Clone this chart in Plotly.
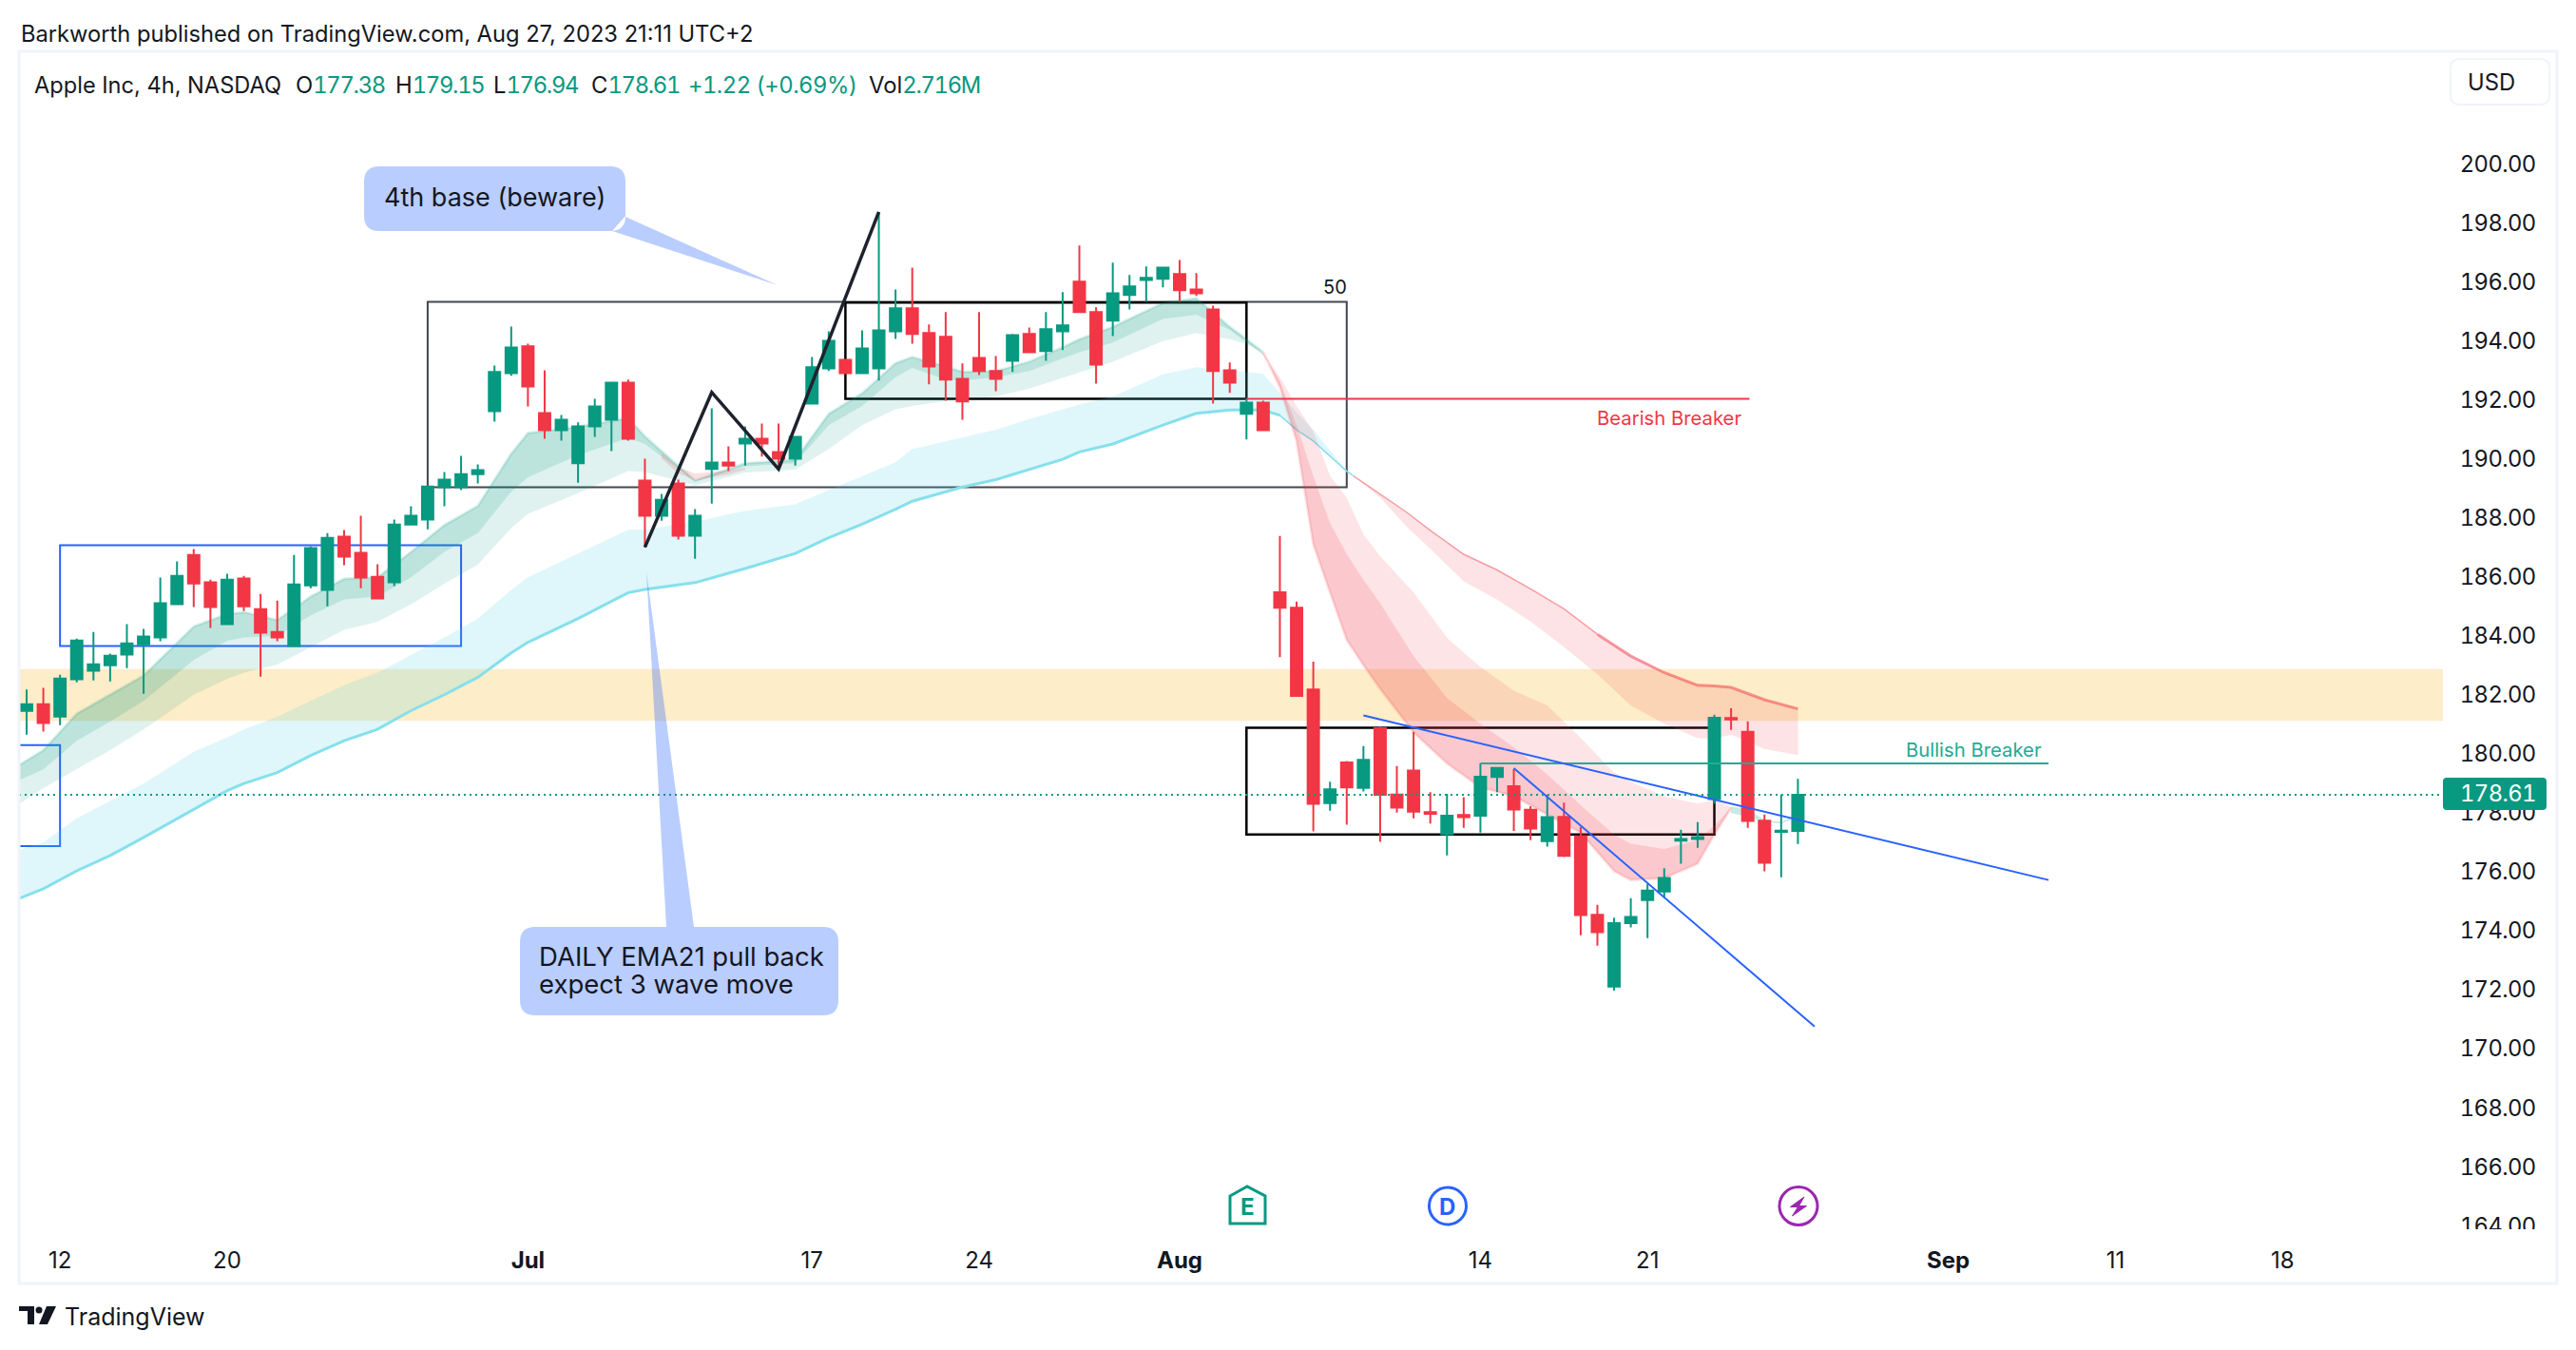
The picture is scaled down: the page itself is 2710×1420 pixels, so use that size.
import plotly.graph_objects as go

# 4h candles, bar index = position on the time axis
opens = [181.45, 181.68, 181.26, 182.52, 182.81, 183.00, 183.36, 183.71, 183.94, 185.07,
         186.74, 185.81, 184.39, 185.94, 184.90, 184.13, 183.65, 185.71, 185.55, 187.36,
         186.81, 186.00, 185.81, 187.77, 187.94, 189.03, 189.03, 189.48, 191.61, 192.90,
         193.81, 191.55, 190.97, 189.85, 191.10, 191.32, 192.58, 189.26, 188.07, 189.16,
         187.39, 189.65, 189.87, 190.52, 190.68, 190.23, 190.00, 191.87, 193.06, 193.35,
         192.90, 193.06, 194.32, 195.10, 194.26, 194.13, 192.71, 193.42, 192.97, 193.32,
         194.23, 193.65, 194.32, 196.00, 194.97, 194.68, 195.55, 196.06, 196.10, 196.26,
         195.74, 195.06, 193.00, 191.52, 191.90, 185.47, 184.95, 182.18, 178.33, 179.70,
         178.84, 180.86, 178.62, 179.43, 178.02, 177.27, 177.92, 177.90, 179.21, 178.90,
         178.10, 177.04, 177.86, 177.20, 174.54, 172.11, 174.26, 175.04, 175.33, 177.05,
         177.11, 178.46, 181.21, 180.74, 177.73, 177.35, 177.38]
highs = [182.18, 182.23, 182.68, 183.90, 184.13, 183.39, 184.39, 184.23, 185.97, 186.52,
         186.94, 185.90, 186.10, 186.03, 185.42, 185.19, 186.74, 187.03, 187.48, 187.58,
         188.07, 186.42, 187.94, 188.39, 189.10, 189.55, 190.10, 189.81, 193.16, 194.48,
         193.90, 193.00, 191.48, 191.23, 192.03, 192.61, 192.68, 190.00, 188.81, 189.29,
         188.29, 191.71, 190.42, 191.10, 191.19, 191.19, 190.74, 193.45, 194.32, 193.35,
         194.35, 198.34, 195.74, 196.48, 194.55, 194.97, 193.23, 194.97, 193.48, 194.23,
         194.45, 194.97, 195.65, 197.23, 195.13, 196.65, 196.23, 196.52, 196.48, 196.74,
         196.29, 195.19, 193.26, 192.03, 191.97, 187.38, 185.16, 183.12, 179.05, 179.75,
         180.26, 180.92, 179.58, 180.74, 178.70, 178.64, 178.53, 179.67, 179.52, 179.48,
         178.22, 178.61, 178.34, 177.51, 174.88, 174.44, 175.10, 175.59, 176.12, 177.42,
         177.68, 181.32, 181.54, 181.10, 177.94, 178.62, 179.15]
lows = [180.65, 180.75, 180.97, 182.42, 182.48, 182.45, 182.90, 182.03, 183.81, 185.07,
        184.97, 184.26, 184.39, 184.84, 182.61, 183.81, 183.65, 185.61, 185.00, 186.39,
        185.61, 185.23, 185.68, 187.77, 187.61, 188.39, 188.94, 189.16, 191.26, 192.81,
        191.77, 190.68, 190.61, 189.19, 190.74, 190.26, 190.61, 187.00, 187.90, 187.26,
        186.61, 188.48, 189.58, 189.77, 190.07, 189.65, 189.77, 191.84, 192.97, 192.90,
        192.90, 192.65, 194.06, 193.90, 192.52, 191.97, 191.32, 192.84, 192.29, 192.94,
        193.61, 193.32, 193.68, 194.97, 192.55, 194.16, 195.06, 195.32, 195.81, 195.32,
        195.52, 191.87, 192.23, 190.65, 190.97, 183.27, 181.94, 177.37, 178.07, 177.59,
        178.72, 177.01, 178.00, 177.81, 177.63, 176.55, 177.49, 177.33, 178.70, 177.38,
        177.07, 176.85, 176.50, 173.85, 173.49, 171.97, 174.11, 173.75, 175.13, 176.27,
        176.81, 178.30, 180.81, 177.49, 176.01, 175.81, 176.94]
closes = [181.68, 181.04, 182.55, 183.84, 183.03, 183.32, 183.74, 183.97, 185.10, 186.03,
          185.77, 184.97, 185.90, 185.00, 184.10, 183.94, 185.74, 186.97, 187.32, 186.68,
          185.97, 185.26, 187.77, 188.07, 189.06, 189.29, 189.48, 189.61, 192.94, 193.77,
          192.45, 190.97, 191.32, 191.10, 191.77, 192.58, 190.68, 188.07, 188.61, 187.39,
          188.07, 189.87, 189.77, 190.68, 190.52, 190.00, 190.74, 193.10, 194.00, 192.90,
          193.74, 194.35, 195.10, 194.23, 193.13, 192.68, 191.94, 192.97, 192.71, 194.19,
          193.61, 194.39, 194.52, 194.97, 193.19, 195.61, 195.84, 196.13, 196.48, 195.71,
          195.61, 192.97, 192.58, 191.90, 190.97, 184.95, 181.96, 178.30, 178.79, 178.86,
          179.79, 178.61, 178.17, 178.04, 177.96, 177.90, 177.85, 179.22, 179.52, 178.11,
          177.46, 177.85, 176.54, 174.53, 173.95, 174.26, 174.47, 175.36, 175.79, 177.11,
          177.17, 181.22, 181.16, 177.72, 176.30, 177.39, 178.61]

# EMA ribbon while rising (bars shared by all five curves up to the crossover)
up_bars = [-0.46, 1, 3, 5, 7, 10, 12, 13, 15, 17, 19, 21, 23, 25, 27, 29, 30, 33, 36, 37, 40, 43,
           46, 48, 50, 52, 53, 55, 56, 58, 60, 62, 63, 65, 68, 70, 72, 73, 74]
fast_top = [179.61, 180.12, 181.36, 182.00, 182.65, 184.31, 184.74, 184.80, 184.53, 185.33, 185.93,
            185.98, 186.84, 187.75, 188.40, 190.17, 190.87, 191.09, 191.38, 190.76, 189.26, 189.85,
            189.96, 191.52, 192.22, 193.24, 193.45, 193.13, 192.95, 192.97, 193.29, 193.78, 194.05,
            194.47, 195.28, 195.44, 194.47, 194.05, 193.61]
fast_mid = [179.10, 179.47, 180.44, 181.09, 181.79, 183.18, 183.83, 183.94, 183.99, 184.69, 185.23,
            185.33, 185.98, 186.84, 187.48, 188.88, 189.37, 190.12, 190.71, 190.50, 189.23, 189.74,
            189.85, 191.14, 191.79, 192.76, 193.08, 192.68, 192.65, 192.76, 192.97, 193.40, 193.61,
            193.94, 194.74, 194.88, 194.37, 193.94, 193.51]
fast_low = [178.29, 178.83, 179.47, 180.12, 180.82, 182.00, 182.54, 182.75, 183.02, 183.61, 184.20,
            184.47, 185.06, 185.76, 186.41, 187.65, 188.13, 188.83, 189.58, 189.55, 189.10, 189.53,
            189.63, 190.33, 191.14, 191.68, 191.79, 191.95, 192.00, 192.11, 192.38, 192.76, 192.92,
            193.29, 193.99, 194.26, 194.05, 193.88, 193.61]
slow_top = [176.73, 177.00, 177.81, 178.40, 178.99, 180.07, 180.55, 180.82, 181.25, 181.79, 182.32,
            182.75, 183.35, 183.94, 184.58, 185.55, 185.98, 186.79, 187.59, 187.60, 187.86, 188.24,
            188.45, 188.94, 189.42, 189.88, 190.33, 190.60, 190.71, 190.98, 191.35, 191.68, 191.84,
            192.11, 192.86, 193.10, 192.99, 192.95, 192.88]
slow_low = [175.09, 175.42, 176.03, 176.55, 177.16, 178.13, 178.75, 178.99, 179.36, 179.94, 180.44,
            180.83, 181.46, 182.00, 182.59, 183.42, 183.78, 184.58, 185.46, 185.57, 185.80, 186.28,
            186.79, 187.32, 187.78, 188.29, 188.56, 188.88, 189.04, 189.29, 189.63, 189.98, 190.23,
            190.50, 191.14, 191.54, 191.65, 191.65, 191.65]
# slow cloud carries on past the fast crossover until it flips
slow_tail_bars = [74, 75, 76, 77, 79, 79.4]
slow_tail_top = [192.88, 192.22, 191.57, 190.98, 189.58, 189.42]
slow_tail_low = [191.65, 191.47, 190.98, 190.60, 189.58, 189.42]

# short red flip of the fast ribbon in early July
dip_bars = [38, 39, 40, 42, 43]
dip_top = [190.20, 189.70, 189.50, 189.60, 189.70]
dip_low = [190.00, 189.50, 189.26, 189.47, 189.63]

# EMA ribbon while falling
down_bars = [74, 75, 76, 77, 78, 79, 80, 81, 83, 85, 87, 89, 91, 93, 95, 96, 98, 100, 101, 102]
down_fast_low = [193.61, 192.43, 190.60, 187.10, 185.47, 183.86, 183.00, 182.20, 180.72, 179.67, 178.86,
                 178.56, 177.94, 177.32, 176.02, 175.72, 175.78, 176.27, 177.26, 178.16]
down_fast_mid = [193.51, 192.65, 191.14, 189.42, 187.82, 186.77, 185.90, 185.10, 183.31, 181.89, 181.02,
                 180.22, 179.30, 178.25, 177.26, 176.95, 176.77, 177.07, 177.57, 178.16]
down_fast_top = [193.61, 192.76, 191.79, 190.93, 189.42, 188.68, 187.44, 186.70, 185.47, 183.93, 182.94,
                 182.14, 181.64, 180.53, 179.36, 179.05, 178.56, 178.31, 178.43, 178.20]
down_slow_bars = [79.4, 81, 82.6, 84, 86, 88, 90, 92, 94, 96, 98, 100, 101, 102, 104, 106]
down_slow_top = [189.42, 188.80, 188.18, 187.57, 186.76, 186.23, 185.59, 184.91, 184.05, 183.31, 182.75,
                 182.32, 182.30, 182.25, 181.83, 181.52]
down_slow_low = [189.42, 188.68, 187.69, 186.95, 185.84, 185.22, 184.48, 183.62, 182.69, 181.64, 181.02,
                 180.53, 180.51, 180.65, 180.16, 179.95]
# little green sliver after the last flip
last_bars = [102, 103, 104, 105, 106]
last_top = [178.21, 178.12, 177.75, 177.69, 177.94]
last_low = [177.99, 177.87, 177.69, 177.63, 177.87]

# drawings on the chart: (bar, price)
zigzag_bars = [37, 41, 45, 51]
zigzag_prices = [187.00, 192.25, 189.65, 198.37]
trend_a_bars = [80, 121]
trend_a_prices = [181.30, 175.72]
trend_b_bars = [89, 107]
trend_b_prices = [179.51, 170.75]
bearish_bars = [73, 103.1]
bearish_price = 192.03
bullish_bars = [87, 121]
bullish_price = 179.67
last_price = 178.61

# time axis
tick_bars = [2, 12, 30, 47, 57, 69, 87, 97, 115, 125, 135]
tick_labels = ["12", "20", "<b>Jul</b>", "17", "24", "<b>Aug</b>", "14", "21", "<b>Sep</b>", "11", "18"]
price_ticks = list(range(164, 204, 2))

GREEN = "#089981"
RED = "#f23645"
BLUE = "#2962ff"
DARK = "#131722"
FONT = "Inter"
CALLOUT = "rgba(41,98,255,0.32)"


# the pane runs 20..2570 px across and 54..1293 px down the 2710x1420 page
def fx(px):
    return (px - 20) / 2550


def fy(py):
    return (1293 - py) / 1239


def band(fig, xs, top, low, color):
    fig.add_trace(go.Scatter(x=list(xs) + list(xs)[::-1], y=list(top) + list(low)[::-1], mode="lines",
                             fill="toself", fillcolor=color, line=dict(width=0), hoverinfo="skip", zorder=0))


def line(fig, xs, ys, color, width, zorder=0):
    fig.add_trace(go.Scatter(x=xs, y=ys, mode="lines", line=dict(color=color, width=width), hoverinfo="skip",
                             zorder=zorder))


def px_path(points):
    return "M " + " L ".join(f"{fx(a):.5f},{fy(b):.5f}" for a, b in points) + " Z"


def pt(a, b):
    return f"{fx(a):.5f},{fy(b):.5f}"


def bubble_path(x0, y0, x1, y1, r, top_tail=None, right_tail=None):
    # rounded box, clockwise from top left, with an optional tail on the top or right side
    d = f"M {pt(x0 + r, y0)}"
    if top_tail:
        d += "".join(f" L {pt(a, b)}" for a, b in top_tail)
    d += f" L {pt(x1 - r, y0)} Q {pt(x1, y0)} {pt(x1, y0 + r)}"
    if right_tail:
        d += "".join(f" L {pt(a, b)}" for a, b in right_tail)
    d += f" L {pt(x1, y1 - r)} Q {pt(x1, y1)} {pt(x1 - r, y1)}"
    d += f" L {pt(x0 + r, y1)} Q {pt(x0, y1)} {pt(x0, y1 - r)}"
    d += f" L {pt(x0, y0 + r)} Q {pt(x0, y0)} {pt(x0 + r, y0)} Z"
    return d


def rect_shape(x0, x1, y0, y1, color, width):
    # TradingView keeps these boxes behind the candles
    return dict(type="rect", x0=x0, x1=x1, y0=y0, y1=y1, line=dict(color=color, width=width), layer="below")


def page_shape(**kw):
    kw.update(xref="paper", yref="paper", layer="above")
    return kw


def num(text, color=DARK, squeeze=0.6):
    # Inter's default "1" is narrow, the chart uses even digit widths
    return (f"<span style=\"color:{color};font-feature-settings:'tnum';"
            f"letter-spacing:-{squeeze}px\">{text}</span>")


def label(px, py, text, color=DARK, size=23.8, anchor="left"):
    return dict(xref="paper", yref="paper", x=fx(px), y=fy(py), text=text, showarrow=False,
                xanchor=anchor, yanchor="middle", align="left", font=dict(family=FONT, size=size, color=color))


fig = go.Figure()

# ribbons
band(fig, up_bars, slow_top, slow_low, "rgba(77,208,225,0.18)")
band(fig, slow_tail_bars, slow_tail_top, slow_tail_low, "rgba(77,208,225,0.18)")
line(fig, up_bars + slow_tail_bars[:2], slow_low + slow_tail_low[:2], "#86e0ec", 3)
line(fig, slow_tail_bars[1:], slow_tail_low[1:], "#86e0ec", 1.5)
band(fig, up_bars, fast_top, fast_low, "rgba(8,153,129,0.13)")
band(fig, up_bars, fast_top, fast_mid, "rgba(8,153,129,0.16)")
line(fig, up_bars, fast_top, "rgba(8,153,129,0.14)", 3)
band(fig, dip_bars, dip_top, dip_low, "rgba(242,54,69,0.16)")
band(fig, down_slow_bars, down_slow_top, down_slow_low, "rgba(242,54,69,0.14)")
line(fig, down_slow_bars[:9], down_slow_top[:9], "rgba(242,54,69,0.45)", 1.5)
line(fig, down_slow_bars[8:], down_slow_top[8:], "rgba(242,54,69,0.5)", 3)
band(fig, down_bars, down_fast_top, down_fast_low, "rgba(242,54,69,0.13)")
band(fig, down_bars, down_fast_mid, down_fast_low, "rgba(242,54,69,0.16)")
line(fig, down_bars, down_fast_low, "rgba(242,54,69,0.14)", 3)
band(fig, last_bars, last_top, last_low, "rgba(8,153,129,0.22)")

# candles, scatter traces would sit on top of them without the zorder
fig.add_trace(go.Candlestick(
    x=list(range(len(opens))), open=opens, high=highs, low=lows, close=closes,
    increasing=dict(line=dict(color=GREEN, width=2), fillcolor=GREEN),
    decreasing=dict(line=dict(color=RED, width=2), fillcolor=RED),
    whiskerwidth=0, zorder=1,
))

# trader's drawings
line(fig, bearish_bars, [bearish_price] * 2, RED, 2, zorder=2)
line(fig, bullish_bars, [bullish_price] * 2, "#22ab94", 2, zorder=2)
line(fig, zigzag_bars, zigzag_prices, "#1e222d", 3.5, zorder=2)
line(fig, trend_a_bars, trend_a_prices, BLUE, 2, zorder=2)
line(fig, trend_b_bars, trend_b_prices, BLUE, 2, zorder=2)

shapes = [
    # supply zone behind everything
    dict(type="rect", xref="paper", x0=0, x1=1, y0=181.11, y1=182.87, line=dict(width=0),
         fillcolor="rgba(248,190,50,0.27)", layer="below"),
    dict(type="line", xref="paper", x0=0, x1=1, y0=last_price, y1=last_price,
         line=dict(color=GREEN, width=2, dash="2px,4px"), layer="above"),
    rect_shape(2, 26, 183.65, 187.07, BLUE, 2),
    rect_shape(-5, 2, 176.87, 180.29, BLUE, 2),
    rect_shape(24, 79, 189.03, 195.32, "#434651", 2),
    rect_shape(49, 73, 192.03, 195.29, "#000000", 2.5),
    rect_shape(73, 101, 177.26, 180.88, "#000000", 2.5),
    # callouts
    page_shape(type="path", path=bubble_path(383, 175, 658, 243, 16, right_tail=[(658, 228), (818, 300), (644, 243)]),
               fillcolor=CALLOUT, line=dict(width=0)),
    page_shape(type="path", path=bubble_path(547, 975, 882, 1068, 16, top_tail=[(701, 975), (680, 601), (730, 975)]),
               fillcolor=CALLOUT, line=dict(width=0)),
    # price scale is clipped top and bottom
    page_shape(type="rect", x0=fx(2571), x1=fx(2688), y0=fy(121), y1=fy(56), fillcolor="white", line=dict(width=0)),
    page_shape(type="rect", x0=fx(2571), x1=fx(2688), y0=fy(1306), y1=fy(1293), fillcolor="white", line=dict(width=0)),
    # frame
    page_shape(type="rect", x0=fx(20), x1=fx(2690), y0=fy(1350), y1=fy(54), line=dict(color="#f0f3fa", width=3)),
    # currency button
    page_shape(type="path", path=bubble_path(2578, 62, 2682, 110, 10), fillcolor="white",
               line=dict(color="#f0f3fa", width=2)),
    # last price tag
    page_shape(type="path", path=bubble_path(2570, 818, 2679, 852, 4), fillcolor=GREEN, line=dict(width=0)),
    # earnings marker
    page_shape(type="path", path=px_path([(1294, 1258), (1312, 1248), (1331, 1258), (1331, 1287), (1294, 1287)]),
               line=dict(color=GREEN, width=3)),
    # dividend and split circles
    page_shape(type="circle", x0=fx(1503.5), x1=fx(1542.5), y0=fy(1288), y1=fy(1249), line=dict(color=BLUE, width=3)),
    page_shape(type="circle", x0=fx(1872), x1=fx(1912), y0=fy(1288.5), y1=fy(1248.5),
               line=dict(color="#9c27b0", width=3)),
    page_shape(type="path", path=px_path([(1898, 1259), (1883.5, 1269.5), (1891.5, 1269.5), (1885.5, 1279),
                                          (1900.5, 1268.5), (1892.5, 1268.5)]),
               fillcolor="#9c27b0", line=dict(color="#9c27b0", width=1)),
    # logo
    page_shape(type="path", path=px_path([(20, 1374), (36, 1374), (36, 1393), (29, 1393), (29, 1379), (20, 1379)]),
               fillcolor=DARK, line=dict(width=0)),
    page_shape(type="circle", x0=fx(37.5), x1=fx(44.5), y0=fy(1381.5), y1=fy(1374.5), fillcolor=DARK, line=dict(width=0)),
    page_shape(type="path", path=px_path([(49, 1374), (59, 1374), (50, 1393), (41, 1393)]),
               fillcolor=DARK, line=dict(width=0)),
]

annotations = [
    label(20, 35, "Barkworth published on TradingView.com, Aug 27, 2023 21:11 UTC+2", size=23.7),
    label(34, 90, "Apple Inc, 4h, NASDAQ", size=23.6),
    label(309, 90, "O" + num("177.38", GREEN, 1.3)),
    label(414, 90, "H" + num("179.15", GREEN, 1.3)),
    label(517, 90, "L" + num("176.94", GREEN, 1.3)),
    label(620, 90, "C" + num("178.61", GREEN, 1.3)),
    label(722, 90, num("+1.22 (+0.69%)", GREEN, 0.5)),
    label(912, 90, "Vol" + num("2.716M", GREEN, 1.3)),
    label(402, 208, "4th base (beware)", size=27),
    label(565, 1006, "DAILY EMA21 pull back", size=27.5),
    label(565, 1035, "expect 3 wave move", size=27.5),
    label(1404, 302, "50", size=20, anchor="center"),
    label(1678, 439, "Bearish Breaker", color=RED, size=20.3),
    label(2003, 788, "Bullish Breaker", color="#22ab94", size=20.3),
    label(2621, 86, "USD", anchor="center"),
    label(2627.5, 835, num("178.61", "white"), anchor="center"),
    label(1312, 1269, "<b>E</b>", color=GREEN, size=24, anchor="center"),
    label(1523, 1269, "<b>D</b>", color=BLUE, size=24, anchor="center"),
    label(66, 1385, "TradingView", size=25),
]

# the page body adds 8 px at top left, so the figure is 8 px short to land on the 2710x1420 grid
fig.update_layout(
    width=2702, height=1412, margin=dict(l=12, r=140, t=46, b=127),
    paper_bgcolor="white", plot_bgcolor="white", showlegend=False, boxgap=0.32, boxgroupgap=0,
    shapes=shapes, annotations=annotations, hovermode=False,
    font=dict(family=FONT, size=24, color=DARK),
    xaxis=dict(range=[-0.455, 144.6], rangeslider=dict(visible=False), showgrid=False, zeroline=False,
               tickmode="array", tickvals=tick_bars, ticktext=tick_labels, ticks="outside", ticklen=11,
               tickcolor="white", tickfont=dict(family=FONT, size=24, color=DARK)),
    yaxis=dict(range=[163.88, 203.81], side="right", showgrid=False, zeroline=False, tickmode="array",
               tickvals=price_ticks, ticktext=[num(f"{p:.2f}") for p in price_ticks], ticks="outside", ticklen=12,
               tickcolor="white", tickfont=dict(family=FONT, size=23.8, color=DARK)),
)

fig.write_html("out.html")
